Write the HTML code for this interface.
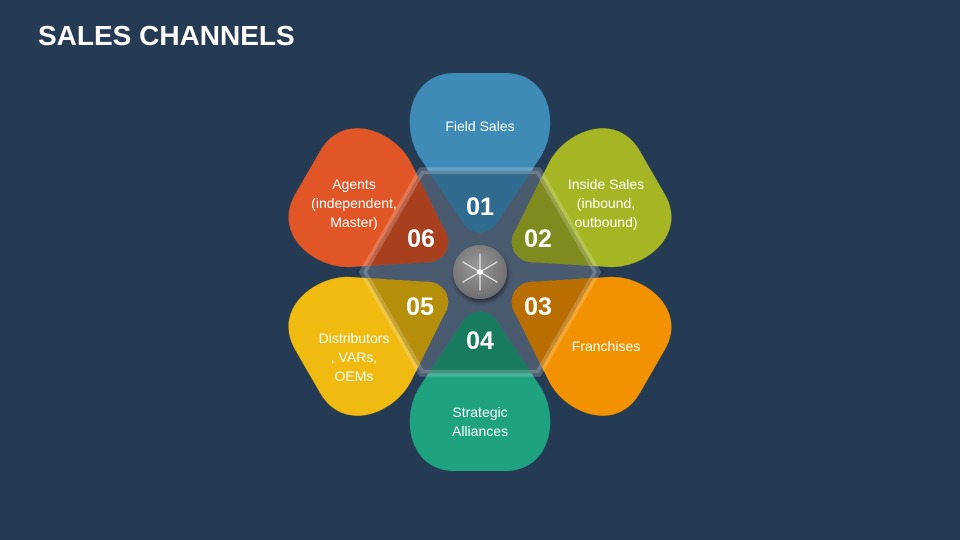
<!DOCTYPE html>
<html><head><meta charset="utf-8"><style>
html,body{margin:0;padding:0;background:#253a53;}
svg{display:block;}
text{font-family:"Liberation Sans",sans-serif;fill:#fff;}
</style></head><body>
<svg width="960" height="540" viewBox="0 0 960 540" xmlns="http://www.w3.org/2000/svg">
<defs>
<path id="p" d="M -20,-54 C -11,-35 11,-35 20,-54 L 60,-114 C 80,-144 72,-199 25,-199 L -25,-199 C -72,-199 -80,-144 -60,-114 Z"/>
<clipPath id="hc"><polygon points="597,272 538.5,170.7 421.5,170.7 363,272 421.5,373.3 538.5,373.3"/></clipPath>
<radialGradient id="cg" cx="0.45" cy="0.4" r="0.6"><stop offset="0" stop-color="#9a9a9a"/><stop offset="1" stop-color="#6e6e6e"/></radialGradient>
<filter id="sh" x="-50%" y="-50%" width="200%" height="200%"><feDropShadow dx="1" dy="3" stdDeviation="2.5" flood-color="#000" flood-opacity="0.5"/></filter>
</defs>
<rect width="960" height="540" fill="#253a53"/>
<text x="38" y="45" font-size="28" font-weight="bold">SALES CHANNELS</text>
<polygon points="597,272 538.5,170.7 421.5,170.7 363,272 421.5,373.3 538.5,373.3" fill="#4a5a6f"/>
<g transform="translate(480,272)">
<use href="#p" fill="#3f8bb7" transform="rotate(0)"/>
<use href="#p" fill="#a5b524" transform="rotate(60)"/>
<use href="#p" fill="#f39200" transform="rotate(120)"/>
<use href="#p" fill="#1ea27f" transform="rotate(180)"/>
<use href="#p" fill="#f0ba10" transform="rotate(240)"/>
<use href="#p" fill="#e05627" transform="rotate(300)"/>
</g>
<g clip-path="url(#hc)">
<g transform="translate(480,272)">
<use href="#p" fill="#2f6a8f" transform="rotate(0)"/>
<use href="#p" fill="#7f8b1f" transform="rotate(60)"/>
<use href="#p" fill="#b96e02" transform="rotate(120)"/>
<use href="#p" fill="#187a5f" transform="rotate(180)"/>
<use href="#p" fill="#b58f0c" transform="rotate(240)"/>
<use href="#p" fill="#a83f1e" transform="rotate(300)"/>
</g>
</g>
<polygon points="597,272 538.5,170.7 421.5,170.7 363,272 421.5,373.3 538.5,373.3" fill="none" stroke="#ffffff" stroke-opacity="0.2" stroke-width="7"/>
<circle cx="480" cy="272" r="27" fill="url(#cg)" filter="url(#sh)"/>
<g stroke="#fff" stroke-linecap="round">
<line x1="480" y1="254" x2="480" y2="290" stroke-width="1.2" stroke-opacity="0.85"/>
<line x1="463" y1="262" x2="497" y2="282" stroke-width="1.2" stroke-opacity="0.85"/>
<line x1="463" y1="282" x2="497" y2="262" stroke-width="1.2" stroke-opacity="0.85"/>
</g>
<circle cx="480" cy="272" r="3" fill="#fff"/>
<g font-size="25" font-weight="bold" text-anchor="middle">
<text x="480" y="215">01</text>
<text x="538" y="247">02</text>
<text x="538" y="315">03</text>
<text x="480" y="349">04</text>
<text x="420" y="315">05</text>
<text x="421" y="247">06</text>
</g>
<g font-size="14" text-anchor="middle">
<text x="480" y="131">Field Sales</text>
<text x="606" y="189">Inside Sales</text>
<text x="606" y="208">(inbound,</text>
<text x="606" y="227">outbound)</text>
<text x="606" y="351">Franchises</text>
<text x="480" y="417">Strategic</text>
<text x="480" y="436">Alliances</text>
<text x="354" y="343">Distributors</text>
<text x="354" y="362">, VARs,</text>
<text x="354" y="381">OEMs</text>
<text x="354" y="189">Agents</text>
<text x="354" y="208">(independent,</text>
<text x="354" y="227">Master)</text>
</g>
</svg>
</body></html>
